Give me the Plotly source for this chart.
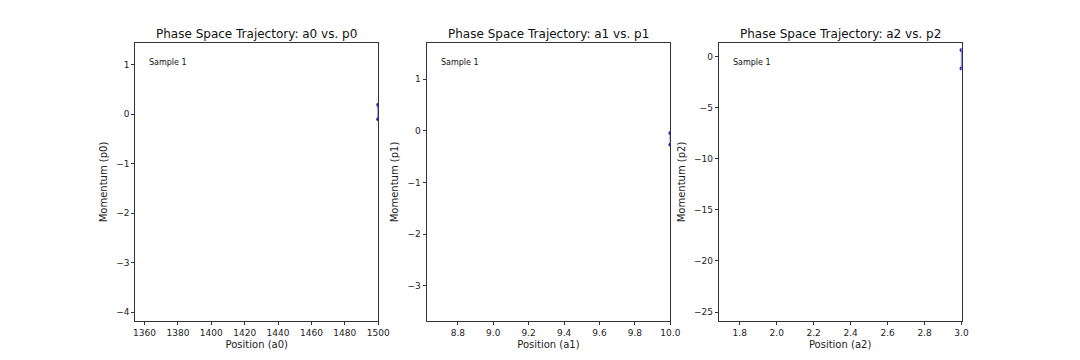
import plotly.graph_objects as go

# Data
a0 = [1500.0, 1500.0]
p0 = [0.19, -0.10]
a1 = [10.0, 10.0]
p1 = [-0.04, -0.27]
a2 = [3.0, 3.0]
p2 = [0.66, -1.15]

titles = ["Phase Space Trajectory: a0 vs. p0",
          "Phase Space Trajectory: a1 vs. p1",
          "Phase Space Trajectory: a2 vs. p2"]
xlabels = ["Position (a0)", "Position (a1)", "Position (a2)"]
ylabels = ["Momentum (p0)", "Momentum (p1)", "Momentum (p2)"]
sample_label = "Sample 1"

xs = [a0, a1, a2]
ys = [p0, p1, p2]

xranges = [[1354.5, 1500.0], [8.623, 10.0], [1.686, 3.0]]
yranges = [[-4.18, 1.44], [-3.68, 1.70], [-25.88, 1.34]]
xdticks = [20, 0.2, 0.2]
xfmts = ["d", ".1f", ".1f"]
ydticks = [1, 1, 5]

W, H = 1080, 360
OFF = 8  # page body margin


def px(v):
    return (v - OFF) / W


def py(v):
    return (H - (v - OFF)) / H


xdoms = [[px(135), px(381)], [px(430), px(677)], [px(726), px(972)]]
ydom = [py(321), py(43)]

FONT = "DejaVu Sans"
fig = go.Figure()
axcol = "#333333"
mcol = "#2a2ac8"

for i in range(3):
    n = "" if i == 0 else str(i + 1)
    fig.add_trace(go.Scatter(
        x=xs[i], y=ys[i], mode="lines+markers",
        line=dict(color=mcol, width=1.2),
        marker=dict(color=mcol, size=4),
        xaxis="x" + n, yaxis="y" + n, showlegend=False,
    ))
    common = dict(showgrid=False, zeroline=False, showline=True, mirror=True,
                  linecolor=axcol, linewidth=1, ticks="outside", ticklen=3,
                  tickcolor=axcol, tickfont=dict(family=FONT, size=9, color="#222"))
    fig.layout["xaxis" + n] = dict(
        domain=xdoms[i], range=xranges[i], anchor="y" + n,
        dtick=xdticks[i], tickformat=xfmts[i],
        title=dict(text=xlabels[i], font=dict(family=FONT, size=10, color="#222"), standoff=4),
        **common)
    fig.layout["yaxis" + n] = dict(
        domain=ydom, range=yranges[i], anchor="x" + n, dtick=ydticks[i],
        title=dict(text=ylabels[i], font=dict(family=FONT, size=10, color="#222"), standoff=6),
        **common)
    xc = (xdoms[i][0] + xdoms[i][1]) / 2
    fig.add_annotation(text=titles[i], xref="paper", yref="paper", x=xc, y=py(34),
                       showarrow=False, xanchor="center", yanchor="middle",
                       font=dict(family=FONT, size=12, color="#111"))
    fig.add_annotation(text=sample_label, xref="x" + n + " domain", yref="y" + n + " domain",
                       x=0.05, y=0.955, showarrow=False, xanchor="left", yanchor="top",
                       font=dict(family=FONT, size=8, color="#111"))

fig.update_layout(width=W, height=H, margin=dict(l=0, r=0, t=0, b=0),
                  paper_bgcolor="white", plot_bgcolor="white")
fig.write_html("out.html")
